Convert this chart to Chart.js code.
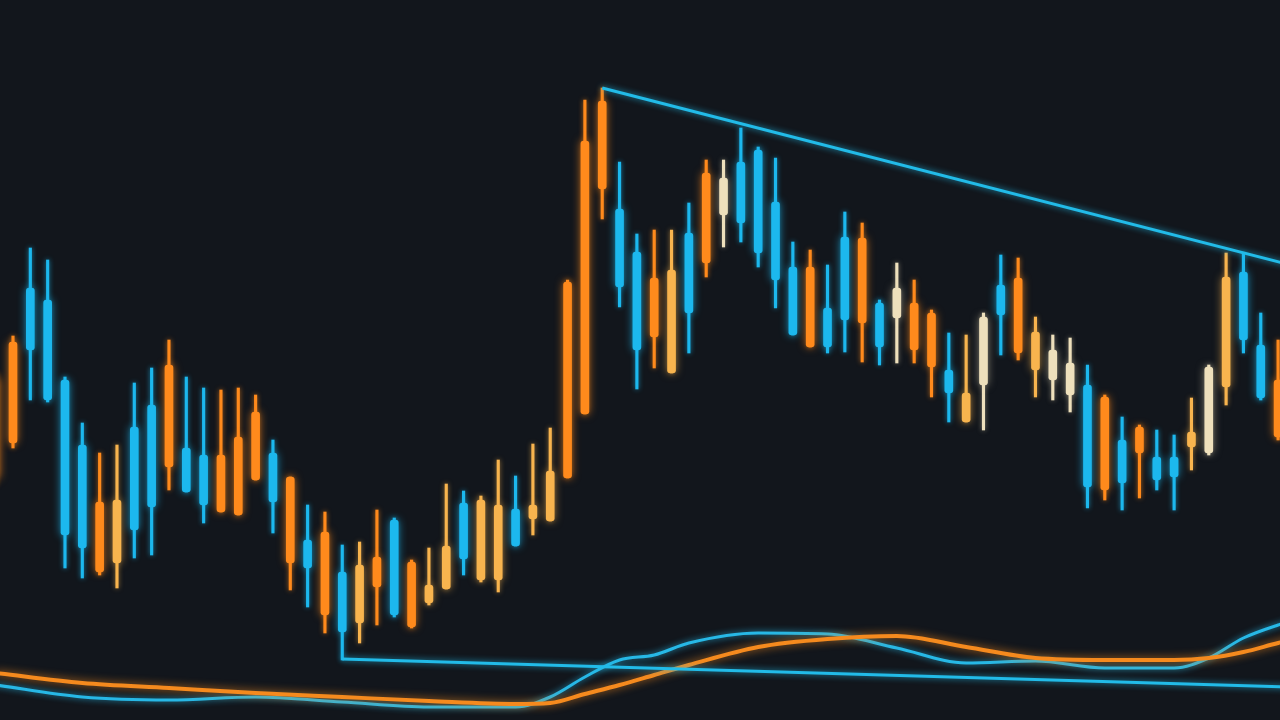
<!DOCTYPE html>
<html>
<head>
<meta charset="utf-8">
<script src="https://cdn.jsdelivr.net/npm/chart.js@4.4.0/dist/chart.umd.min.js"></script>
<style>
  html, body { margin: 0; padding: 0; background: #12161c; overflow: hidden; }
  #wrap { width: 1280px; height: 720px; }
</style>
</head>
<body>
<div id="wrap"><canvas id="candles" width="1280" height="720"></canvas></div>
<script>
// candle data, one entry per bar (index 0 is the half-cut bar on the left edge)
const highs  = [34.8,38.4,47.2,46.0,34.3,29.7,26.7,27.5,33.7,35.2,38.0,34.3,33.2,33.0,33.2,32.5,28.0,24.3,21.5,20.8,17.5,17.8,21.0,20.2,16.0,
                17.2,23.6,22.9,22.4,26.0,24.4,27.6,29.2,44.0,62.0,63.2,55.8,48.6,49.0,49.0,51.7,56.0,56.0,59.2,57.3,56.2,47.8,47.0,45.5,50.8,
                49.7,42.0,45.7,44.0,41.0,38.7,38.5,40.7,46.5,46.2,40.3,38.5,38.2,35.5,32.5,30.3,29.5,29.0,28.5,32.2,35.5,46.7,46.7,40.7,38.0];
const lows   = [23.5,27.2,32.0,31.8,15.2,14.2,14.5,13.2,16.2,16.5,23.0,22.8,19.7,20.8,20.5,24.0,18.7,13.0,11.3,8.7,6.0,7.7,9.5,10.3,9.2,
                11.5,13.1,14.5,13.8,12.8,17.4,18.5,19.9,24.2,30.6,50.1,41.3,33.1,35.2,34.7,36.7,44.3,47.3,47.8,45.3,41.2,38.5,37.3,36.7,36.8,
                35.8,35.5,35.7,35.7,32.3,29.8,29.8,29.0,36.5,36.0,32.3,32.0,30.8,21.2,22.0,21.0,22.2,23.0,21.0,25.0,26.5,31.5,36.7,32.0,28.0];
const opens  = [24.2,27.7,43.2,42.0,34.0,27.5,14.8,15.7,29.3,31.5,25.3,27.2,26.5,20.8,20.5,24.0,26.7,15.7,18.0,10.5,14.8,9.7,13.3,20.0,9.3,
                11.7,13.1,21.7,14.0,14.0,21.1,20.1,19.9,24.2,30.6,53.1,51.1,46.8,38.3,34.7,48.7,45.7,50.5,55.8,57.0,51.8,45.3,37.3,41.2,48.3,
                39.7,41.7,40.2,37.0,35.3,35.0,29.8,33.5,43.5,36.7,35.0,34.0,32.5,33.5,23.0,28.0,26.7,26.3,26.3,27.3,26.7,33.3,44.8,37.5,28.3];
const closes = [34.2,37.8,37.0,32.0,18.5,17.2,21.8,22.0,19.0,21.3,35.5,22.8,21.5,26.5,28.3,30.8,21.8,24.3,15.2,18.8,8.8,15.5,16.3,10.5,15.8,
                13.5,17.4,16.1,22.0,21.5,17.4,21.5,24.9,43.8,57.9,61.9,43.3,37.0,44.2,45.0,40.7,54.7,54.2,49.7,46.7,44.0,38.5,45.3,37.3,40.0,
                48.2,37.3,43.2,41.7,40.7,32.7,32.7,40.3,40.5,44.2,38.8,37.0,35.7,23.3,32.3,23.7,29.3,24.0,24.3,28.8,35.3,44.3,38.0,32.2,34.0];
const tones  = ['o','o','b','b','b','b','o','c','b','b','o','b','b','o','o','o','b','o','b','o','b','c','o','b','o',
                'c','c','b','c','c','b','c','c','o','o','o','b','b','o','c','b','o','w','b','b','b','b','o','b','b',
                'o','b','w','o','o','b','c','w','b','o','c','w','w','b','o','b','o','b','b','c','w','c','b','b','o'];

// moving averages at the bottom, sampled at bar indices
const maIdx  = [0,5,10,15,20,25,30,32,34,36,38,40,44,48,52,56,60,64,68,70,72,74,75];
const maSlow = [4.7,3.7,3.2,2.7,2.3,1.9,1.6,1.7,2.6,3.5,4.5,5.5,7.3,8.1,8.4,7.3,6.2,6.0,6.0,6.2,6.8,7.7,8.1];
const maFast = [3.5,2.3,2.0,2.3,1.8,1.3,1.3,2.3,4.3,6.0,6.5,7.7,8.7,8.6,7.2,5.7,5.9,5.2,5.2,6.2,8.2,9.5,10.0];

// trend lines
const topTrendX = [35, 74.5];
const topTrendY = [63.2, 45.6];
const lowTrendX = [20, 74.5];
const lowTrendY = [6.1, 3.3];

const toneColors = { o: '#ff8a1c', b: '#1cb8ee', c: '#f8b44e', w: '#eee0bc' };
const toneGlow = { o: 'rgba(255,138,28,0.7)', b: 'rgba(28,184,238,0.7)', c: 'rgba(248,180,78,0.6)', w: 'rgba(238,224,188,0.5)' };

const datasets = [];

datasets.push({
  type: 'line', label: 'top trend', order: 0,
  data: topTrendX.map((x, i) => ({ x: x, y: topTrendY[i] })),
  borderColor: '#22bbe8', borderWidth: 3, pointRadius: 0,
  glow: 'rgba(34,187,232,0.8)', glowBlur: 6
});
datasets.push({
  type: 'line', label: 'low trend', order: 0,
  data: lowTrendX.map((x, i) => ({ x: x, y: lowTrendY[i] })),
  borderColor: '#22bbe8', borderWidth: 3, pointRadius: 0,
  glow: 'rgba(34,187,232,0.8)', glowBlur: 6
});
datasets.push({
  type: 'line', label: 'slow ma', order: 0,
  data: maIdx.map((x, i) => ({ x: x, y: maSlow[i] })),
  borderColor: '#f58a1e', borderWidth: 4, pointRadius: 0, tension: 0.4,
  cubicInterpolationMode: 'monotone',
  glow: 'rgba(245,138,30,0.8)', glowBlur: 8
});
datasets.push({
  type: 'line', label: 'fast ma', order: 0,
  data: maIdx.map((x, i) => ({ x: x, y: maFast[i] })),
  borderColor: '#27b8e6', borderWidth: 3, pointRadius: 0, tension: 0.4,
  cubicInterpolationMode: 'monotone',
  glow: 'rgba(39,184,230,0.8)', glowBlur: 6
});

Object.keys(toneColors).forEach((t) => {
  const ids = [];
  tones.forEach((k, i) => { if (k === t) ids.push(i); });
  datasets.push({
    type: 'bar', label: 'body ' + t, order: 1,
    data: ids.map(i => ({ x: i, y: [opens[i], closes[i]] })),
    backgroundColor: toneColors[t], barThickness: 8, borderRadius: 3,
    borderSkipped: false, grouped: false,
    glow: toneGlow[t], glowBlur: 8
  });
  datasets.push({
    type: 'bar', label: 'wick ' + t, order: 2,
    data: ids.map(i => ({ x: i, y: [lows[i], highs[i]] })),
    backgroundColor: toneColors[t], barThickness: 2.5,
    borderSkipped: false, grouped: false,
    glow: toneGlow[t], glowBlur: 5
  });
});

const glow = {
  id: 'glow',
  beforeDatasetDraw(chart, args) {
    const ds = chart.data.datasets[args.index];
    chart.ctx.save();
    chart.ctx.shadowColor = ds.glow || 'transparent';
    chart.ctx.shadowBlur = ds.glowBlur || 0;
  },
  afterDatasetDraw(chart) {
    chart.ctx.restore();
  }
};

new Chart(document.getElementById('candles'), {
  type: 'bar',
  data: { datasets: datasets },
  options: {
    responsive: false,
    animation: false,
    events: [],
    layout: { padding: 0 },
    plugins: { legend: { display: false }, tooltip: { enabled: false } },
    scales: {
      x: { type: 'linear', min: 0.25, max: 74.11, offset: false, display: false },
      y: { min: 0, max: 72, display: false }
    }
  },
  plugins: [glow]
});
</script>
</body>
</html>
